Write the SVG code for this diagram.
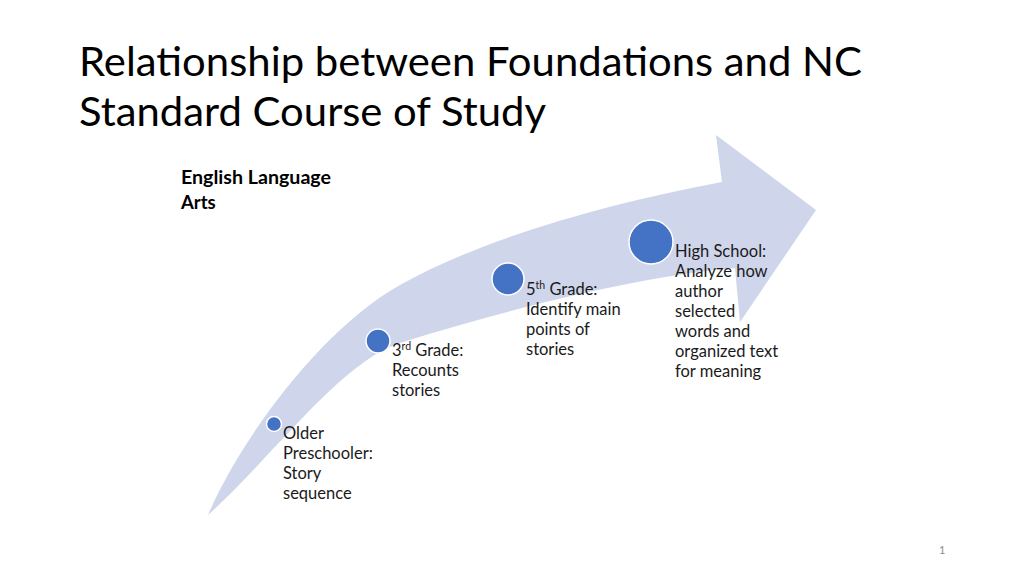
<svg xmlns="http://www.w3.org/2000/svg" width="1024" height="576" viewBox="0 0 1024 576">
  <style>
    .title { font-family: Lato, "Liberation Sans", sans-serif; font-size: 41px; fill: #000; }
    .sub { font-family: Lato, "Liberation Sans", sans-serif; font-size: 18.5px; font-weight: bold; fill: #000; }
    .lbl { font-family: Lato, "Liberation Sans", sans-serif; font-size: 16.5px; fill: #1a1a1a; }
    .sup { font-size: 10.5px; }
    .dot { fill: #4472C4; stroke: #FFFFFF; stroke-width: 1.5; }
    .band { fill: #CFD5EA; }
    .num { font-family: Lato, "Liberation Sans", sans-serif; font-size: 11px; fill: #8c8c8c; }
  </style>
  <rect width="1024" height="576" fill="#FFFFFF"/>
  <g id="title">
    <text class="title" x="79" y="76" textLength="783" lengthAdjust="spacingAndGlyphs">Relationship between Foundations and NC</text>
    <text class="title" x="79" y="126" textLength="467" lengthAdjust="spacingAndGlyphs">Standard Course of Study</text>
  </g>
  <g id="subject">
    <text class="sub" x="181" y="184" textLength="150" lengthAdjust="spacingAndGlyphs">English Language</text>
    <text class="sub" x="181" y="209">Arts</text>
  </g>
  <g id="connectors">
    <path id="arrow" class="band" d="M208,515 C240,440 320,330 400,285 C480,240 600,205 722,182 L716,135 L816,210 L740,322 L735,268 C650,275 520,305 400,343 C340,362 270,460 208,515 Z"/>
  </g>
  <g id="node-preschool">
    <circle class="dot" cx="274" cy="424" r="7.5"/>
    <text class="lbl" x="283">
      <tspan x="283" y="439">Older</tspan>
      <tspan x="283" y="459">Preschooler:</tspan>
      <tspan x="283" y="479">Story</tspan>
      <tspan x="283" y="499">sequence</tspan>
    </text>
  </g>
  <g id="node-3rd">
    <circle class="dot" cx="378" cy="341" r="12"/>
    <text class="lbl" x="392">
      <tspan x="392" y="356">3<tspan class="sup" dy="-6">rd</tspan><tspan dy="6"> Grade:</tspan></tspan>
      <tspan x="392" y="376">Recounts</tspan>
      <tspan x="392" y="396">stories</tspan>
    </text>
  </g>
  <g id="node-5th">
    <circle class="dot" cx="508" cy="279" r="16"/>
    <text class="lbl" x="526">
      <tspan x="526" y="295">5<tspan class="sup" dy="-6">th</tspan><tspan dy="6"> Grade:</tspan></tspan>
      <tspan x="526" y="315">Identify main</tspan>
      <tspan x="526" y="335">points of</tspan>
      <tspan x="526" y="355">stories</tspan>
    </text>
  </g>
  <g id="node-high">
    <circle class="dot" cx="651" cy="242" r="22"/>
    <text class="lbl" x="675">
      <tspan x="675" y="257">High School:</tspan>
      <tspan x="675" y="277">Analyze how</tspan>
      <tspan x="675" y="297">author</tspan>
      <tspan x="675" y="317">selected</tspan>
      <tspan x="675" y="337">words and</tspan>
      <tspan x="675" y="357">organized text</tspan>
      <tspan x="675" y="377">for meaning</tspan>
    </text>
  </g>
  <text class="num" x="939" y="554">1</text>
</svg>
